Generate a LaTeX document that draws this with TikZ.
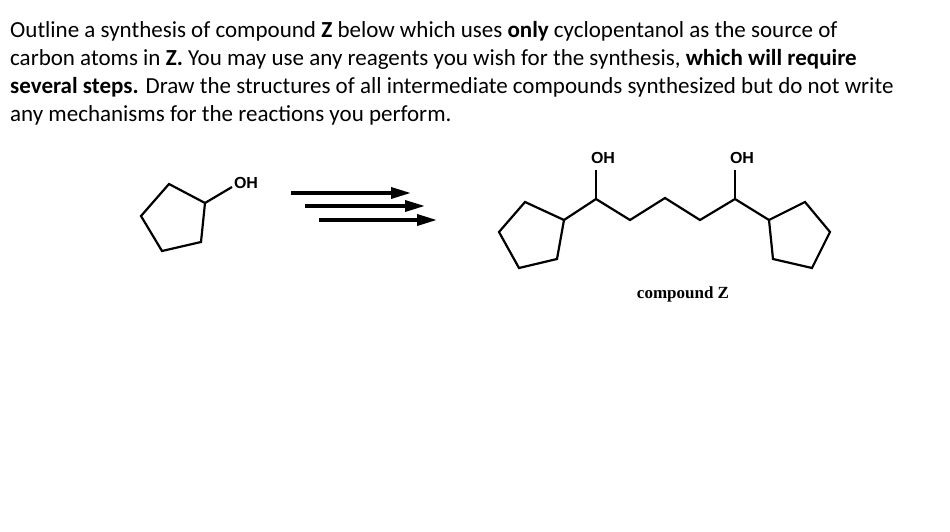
\documentclass[tikz,border=0pt]{standalone}
\usepackage{fontspec}
\usetikzlibrary{arrows.meta}
\setmainfont{Carlito}
\newfontfamily\arialf{Liberation Sans}
\newfontfamily\timesf{Liberation Serif}
\begin{document}
\begin{tikzpicture}[x=1pt,y=-1pt,
  bond/.style={line width=2.2pt,line join=miter},
  arr/.style={line width=3.5pt,-{Triangle[length=20pt,width=11pt]}},
  txt/.style={anchor=base west,inner sep=0pt,font=\fontsize{23}{27}\selectfont},
  oh/.style={inner sep=0pt,font=\arialf\bfseries\fontsize{16}{18}\selectfont}]
\useasboundingbox (0,0) rectangle (950,532);
\fill[white] (0,0) rectangle (950,532);
\node[txt] (l1) at (10,38) {Outline a synthesis of compound \textbf{Z} below which uses \textbf{only} cyclopentanol as the source of};
\node[txt] (l2) at (10,66) {carbon atoms in \textbf{Z.} You may use any reagents you wish for the synthesis, \textbf{which will require}};
\node[txt] (l3) at (10,94) {\textbf{several steps.} Draw the structures of all intermediate compounds synthesized but do not write};
\node[txt] (l4) at (10,122) {any mechanisms for the reactions you perform.};
% left molecule
\draw[bond] (205,203) -- (169,184) -- (141,216) -- (162,251) -- (201,242) -- cycle;
\draw[bond] (205,203) -- (232,187);
\node[oh] (oh0) at (246,183) {OH};
% arrows
\coordinate (a1) at (291,193); \coordinate (b1) at (411,193);
\coordinate (a2) at (305,206); \coordinate (b2) at (425,206);
\coordinate (a3) at (319,220); \coordinate (b3) at (437,220);
\draw[arr] (a1) -- (b1);
\draw[arr] (a2) -- (b2);
\draw[arr] (a3) -- (b3);
% compound Z
\draw[bond] (564,220) -- (525,202) -- (499,232) -- (519,268) -- (557,259) -- cycle;
\draw[bond] (564,220) -- (596,199) -- (630,220) -- (665,198) -- (700,220) -- (735,199) -- (769,220);
\draw[bond] (596,199) -- (596,170);
\draw[bond] (735,199) -- (735,170);
\node[oh] (oh1) at (603,158) {OH};
\node[oh] (oh2) at (742,158) {OH};
\draw[bond] (769,220) -- (805,202) -- (830,232) -- (812,268) -- (773,259) -- cycle;
\node[inner sep=0pt,font=\timesf\bfseries\fontsize{17}{19}\selectfont] (z) at (683,294) {compound Z};
\end{tikzpicture}
\end{document}
